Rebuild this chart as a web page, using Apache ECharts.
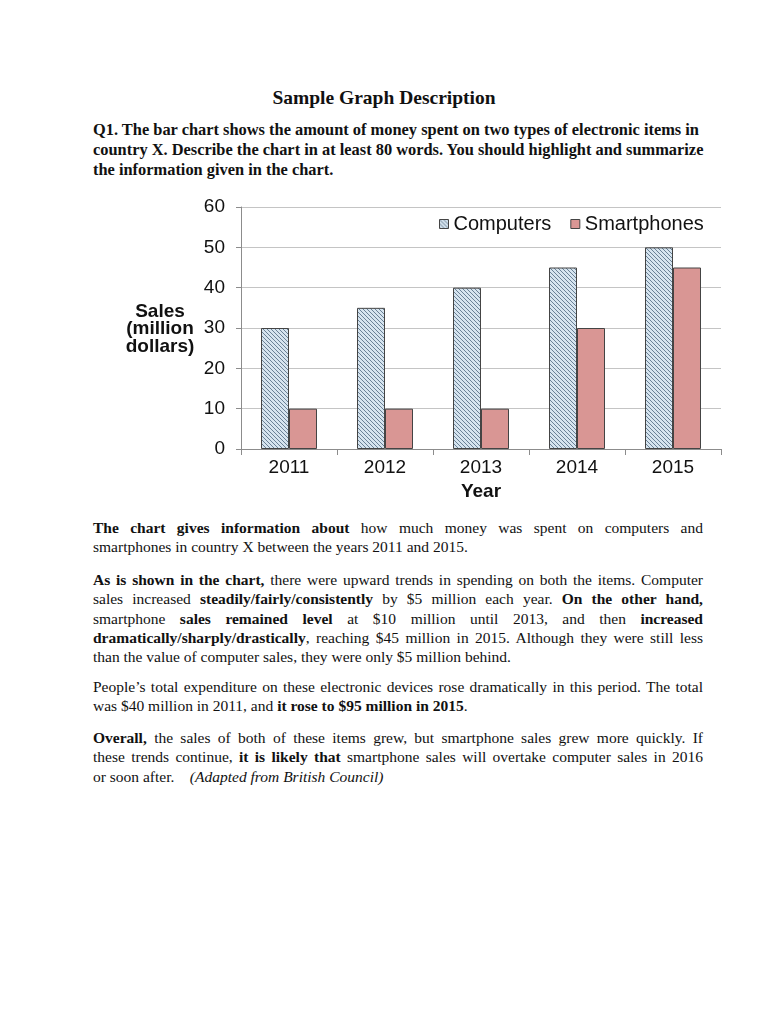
<!DOCTYPE html>
<html>
<head>
<meta charset="utf-8">
<script src="https://cdn.jsdelivr.net/npm/echarts@6/dist/echarts.min.js"></script>
<style>
  html, body { margin:0; padding:0; background:#fff; }
  body { width:768px; height:1024px; position:relative; overflow:hidden; font-family:"Liberation Serif","Times New Roman",serif; color:#111; }
  .title { position:absolute; left:0; width:768px; top:86px; text-align:center; font-weight:bold; font-size:19.5px; line-height:24px; }
  .q { position:absolute; left:93px; width:640px; top:120px; font-weight:bold; font-size:16.4px; line-height:20px; white-space:nowrap; }
  .p { position:absolute; left:93px; width:610px; font-size:15.5px; line-height:19.3px; }
  .p .l { white-space:nowrap; }
  .p .j { text-align:justify; text-align-last:justify; white-space:normal; }
  #chart { position:absolute; left:0; top:190px; width:768px; height:320px; }
</style>
</head>
<body>
<div class="title">Sample Graph Description</div>
<div class="q">
  <div>Q1. The bar chart shows the amount of money spent on two types of electronic items in</div>
  <div>country X. Describe the chart in at least 80 words. You should highlight and summarize</div>
  <div>the information given in the chart.</div>
</div>
<div id="chart"></div>

<div class="p" style="top:518px">
  <div class="j"><b>The chart gives information about</b> how much money was spent on computers and</div>
  <div class="l">smartphones in country X between the years 2011 and 2015.</div>
</div>
<div class="p" style="top:570px">
  <div class="j"><b>As is shown in the chart,</b> there were upward trends in spending on both the items. Computer</div>
  <div class="j">sales increased <b>steadily/fairly/consistently</b> by $5 million each year. <b>On the other hand,</b></div>
  <div class="j">smartphone <b>sales remained level</b> at $10 million until 2013, and then <b>increased</b></div>
  <div class="j"><b>dramatically/sharply/drastically</b>, reaching $45 million in 2015. Although they were still less</div>
  <div class="l">than the value of computer sales, they were only $5 million behind.</div>
</div>
<div class="p" style="top:677px">
  <div class="j">People’s total expenditure on these electronic devices rose dramatically in this period. The total</div>
  <div class="l">was $40 million in 2011, and <b>it rose to $95 million in 2015</b>.</div>
</div>
<div class="p" style="top:728px">
  <div class="j"><b>Overall,</b> the sales of both of these items grew, but smartphone sales grew more quickly. If</div>
  <div class="j">these trends continue, <b>it is likely that</b> smartphone sales will overtake computer sales in 2016</div>
  <div class="l">or soon after.&nbsp;&nbsp;&nbsp; <i>(Adapted from British Council)</i></div>
</div>

<script>
const years = ['2011', '2012', '2013', '2014', '2015'];
const computers = [30, 35, 40, 45, 50];
const smartphones = [10, 10, 10, 30, 45];
const yTicks = { min: 0, max: 60, interval: 10 };
const seriesNames = ['Computers', 'Smartphones'];
const axisNames = { x: 'Year', y: 'Sales\n(million\ndollars)' };

// hatch pattern for Computers bars
const pc = document.createElement('canvas');
pc.width = 4; pc.height = 4;
const g = pc.getContext('2d');
g.fillStyle = '#d6e4ef';
g.fillRect(0, 0, 4, 4);
g.fillStyle = '#6a8196';
for (let i = 0; i < 4; i++) g.fillRect(i, i, 1, 1);
const hatch = { image: pc, repeat: 'repeat' };

const font = '"Liberation Sans", Arial, sans-serif';
const chart = echarts.init(document.getElementById('chart'), null, { renderer: 'canvas' });
chart.setOption({
  animation: false,
  textStyle: { fontFamily: font },
  grid: { left: 241, right: 47, top: 17, bottom: 61, containLabel: false },
  legend: {
    left: 434, top: 19,
    icon: 'rect',
    itemWidth: 9, itemHeight: 9, itemGap: 19,
    textStyle: { fontSize: 20, color: '#111', fontFamily: font },
    data: [
      { name: seriesNames[0], itemStyle: { color: hatch, borderColor: '#444', borderWidth: 1 } },
      { name: seriesNames[1], itemStyle: { color: '#d99694', borderColor: '#444', borderWidth: 1 } }
    ]
  },
  graphic: [{
    type: 'text', x: 160, y: 139,
    style: { text: axisNames.y, font: 'bold 19px ' + font, fill: '#111', align: 'center', verticalAlign: 'middle', lineHeight: 17.5 }
  }],
  xAxis: {
    type: 'category', data: years, boundaryGap: true,
    name: axisNames.x, nameLocation: 'middle', nameGap: 30,
    nameTextStyle: { fontSize: 19, fontWeight: 'bold', color: '#111', fontFamily: font },
    axisLine: { lineStyle: { color: '#8c8c8c', width: 1 } },
    axisTick: { show: true, length: 6, alignWithLabel: false, lineStyle: { color: '#8c8c8c' } },
    axisLabel: { fontSize: 19, color: '#111', margin: 9, fontFamily: font }
  },
  yAxis: {
    type: 'value', min: yTicks.min, max: yTicks.max, interval: yTicks.interval,
    axisLine: { show: true, lineStyle: { color: '#8c8c8c', width: 1 } },
    axisTick: { show: true, length: 5, lineStyle: { color: '#8c8c8c' } },
    axisLabel: { fontSize: 19, color: '#111', margin: 16, fontFamily: font },
    splitLine: { lineStyle: { color: '#c4c4c4', width: 1 } }
  },
  series: [
    { name: seriesNames[0], type: 'bar', data: computers, barWidth: 28, barGap: '0%',
      itemStyle: { color: hatch, borderColor: '#444', borderWidth: 1 } },
    { name: seriesNames[1], type: 'bar', data: smartphones, barWidth: 28, barGap: '0%',
      itemStyle: { color: '#d99694', borderColor: '#444', borderWidth: 1 } }
  ]
});
</script>
</body>
</html>
